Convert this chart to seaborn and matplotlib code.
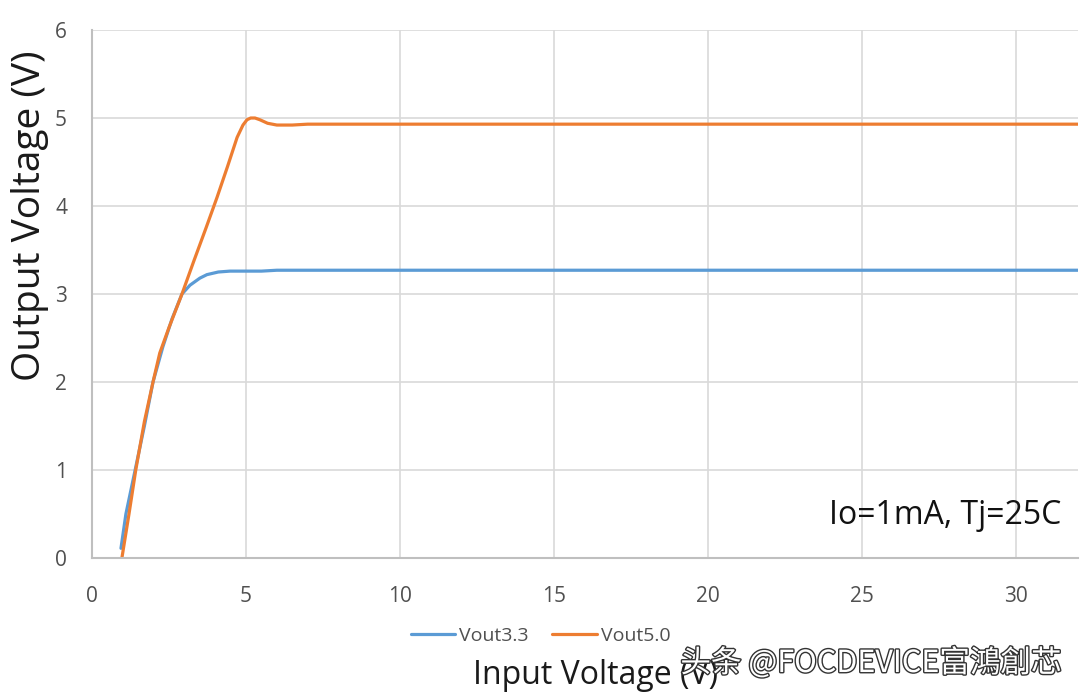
import matplotlib
matplotlib.use('Agg')
import matplotlib.pyplot as plt
import matplotlib.patheffects as pe
import seaborn as sns
import pandas as pd

# datos
vin_33 = [0.94, 1.1, 1.4, 1.7, 1.98, 2.3, 2.6, 2.92, 3.18, 3.5, 3.73, 4.1, 4.48,
          5.0, 5.5, 6.0, 7.0, 10, 15, 20, 25, 30, 32]
vout_33 = [0.11, 0.5, 1.0, 1.5, 2.0, 2.4, 2.72, 3.0, 3.1, 3.18, 3.22, 3.25, 3.26,
           3.26, 3.26, 3.27, 3.27, 3.27, 3.27, 3.27, 3.27, 3.27, 3.27]

vin_50 = [0.97, 1.2, 1.42, 1.7, 1.98, 2.2, 2.5, 2.92, 3.3, 3.7, 4.06, 4.4, 4.71,
          4.9, 5.03, 5.15, 5.29, 5.45, 5.7, 6.0, 6.5, 7.0, 10, 15, 20, 25, 30, 32]
vout_50 = [0.0, 0.5, 1.0, 1.55, 2.0, 2.33, 2.62, 3.0, 3.37, 3.75, 4.1, 4.45, 4.78,
           4.92, 4.98, 5.0, 5.0, 4.98, 4.94, 4.92, 4.92, 4.93, 4.93, 4.93, 4.93, 4.93, 4.93, 4.93]

series = ['Vout3.3', 'Vout5.0']
colors = ['#5B9BD5', '#ED7D31']

df = pd.concat([
    pd.DataFrame({'vin': vin_33, 'vout': vout_33, 'serie': series[0]}),
    pd.DataFrame({'vin': vin_50, 'vout': vout_50, 'serie': series[1]}),
])

sns.set_style('white')
plt.rcParams['font.family'] = ['Open Sans', 'Noto Sans CJK SC', 'DejaVu Sans']

fig = plt.figure(figsize=(10.8, 6.98), dpi=100)
ax = fig.add_axes([0.0852, 0.2006, 0.9128, 0.7564])

sns.lineplot(data=df, x='vin', y='vout', hue='serie', palette=colors,
             estimator=None, sort=True, linewidth=2.3, ax=ax)

ax.set_xlim(0, 32)
ax.set_ylim(0, 6)
ax.set_xticks(range(0, 35, 5))
ax.set_yticks(range(0, 7))
ax.grid(True, color='#d9d9d9', linewidth=1.2)
for s in ['top', 'right']:
    ax.spines[s].set_visible(False)
for s in ['left', 'bottom']:
    ax.spines[s].set_color('#bfbfbf')
    ax.spines[s].set_linewidth(1.5)
ax.tick_params(colors='#505050', labelsize=15, length=0)
ax.tick_params(axis='x', pad=20)
ax.tick_params(axis='y', pad=18)

ax.set_xlabel('Input Voltage (V)', fontsize=23, color='#1a1a1a', weight='medium')
ax.set_ylabel('Output Voltage (V)', fontsize=28, color='#1a1a1a', weight='medium')
ax.xaxis.set_label_coords(0.511, -0.2235)
ax.xaxis.label.set_va('center')
ax.yaxis.set_label_coords(-0.063, 0.648)
ax.yaxis.label.set_va('center')

ax.text(0.983, 0.08, 'Io=1mA, Tj=25C', transform=ax.transAxes, ha='right',
        va='center', fontsize=23, color='#111111')

ax.legend(title=None, loc='center', bbox_to_anchor=(0.455, -0.148), ncol=2,
          frameon=False, fontsize=14, labelcolor='#505050', handlelength=2.3,
          columnspacing=1.2, handletextpad=0.2)

fig.text(0.63, 0.05, '头条 @FOCDEVICE富鴻創芯', fontsize=22, color='white',
         va='center', family=['Noto Sans CJK SC', 'DejaVu Sans'],
         path_effects=[pe.withStroke(linewidth=2, foreground='#333333')])

fig.savefig('out.png', dpi=100)
